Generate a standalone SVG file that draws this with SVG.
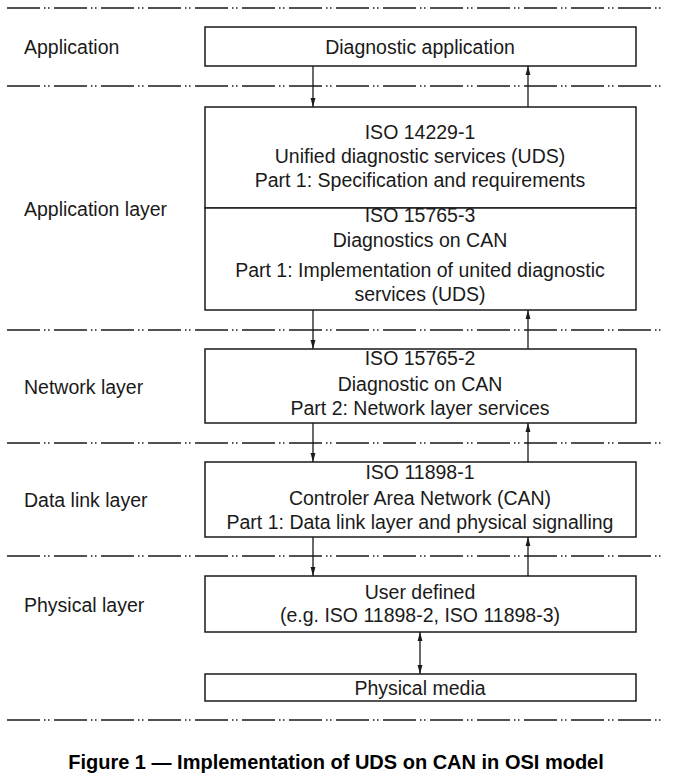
<svg xmlns="http://www.w3.org/2000/svg" width="675" height="782" viewBox="0 0 675 782">
<style>
.bg{fill:#ffffff}
.box{fill:#ffffff;stroke:#1a1a1a;stroke-width:1.5}
.sep{stroke:#1a1a1a;stroke-width:1.3;stroke-dasharray:33 4 1.5 2.5 1.5 4.5;fill:none}
.arr{stroke:#1a1a1a;stroke-width:1.3;fill:none}
.t{font-family:"Liberation Sans",Arial,sans-serif;font-size:19.5px;fill:#1a1a1a;text-anchor:middle}
.l{font-family:"Liberation Sans",Arial,sans-serif;font-size:19.5px;fill:#1a1a1a}
.cap{font-family:"Liberation Sans",Arial,sans-serif;font-size:20px;font-weight:bold;fill:#000;text-anchor:middle}
</style>
<defs>
<marker id="ah" viewBox="0 0 10 10" refX="10" refY="5" markerWidth="9" markerHeight="9" markerUnits="userSpaceOnUse" orient="auto-start-reverse">
<path d="M0,2.3 L10,5 L0,7.7 Z" fill="#1a1a1a"/>
</marker>
</defs>
<rect class="bg" x="0" y="0" width="675" height="782"/>
<g id="separators">
<line class="sep" x1="7" y1="8" x2="664" y2="8"/>
<line class="sep" x1="7" y1="86" x2="664" y2="86"/>
<line class="sep" x1="7" y1="330" x2="664" y2="330"/>
<line class="sep" x1="7" y1="443" x2="664" y2="443"/>
<line class="sep" x1="7" y1="556" x2="664" y2="556"/>
<line class="sep" x1="7" y1="720" x2="664" y2="720"/>
</g>
<g id="layer-labels">
<text class="l" x="24" y="54">Application</text>
<text class="l" x="24" y="216">Application layer</text>
<text class="l" x="24" y="394">Network layer</text>
<text class="l" x="24" y="507">Data link layer</text>
<text class="l" x="24" y="612">Physical layer</text>
</g>
<g id="node-diag-app">
<rect class="box" x="205" y="27" width="431" height="39"/>
<text class="t" x="420" y="54">Diagnostic application</text>
</g>
<g id="node-iso14229">
<rect class="box" x="205" y="107" width="431" height="101"/>
<text class="t" x="420" y="139">ISO 14229-1</text>
<text class="t" x="420" y="163">Unified diagnostic services (UDS)</text>
<text class="t" x="420" y="187">Part 1: Specification and requirements</text>
</g>
<g id="node-iso15765-3">
<rect class="box" x="205" y="208" width="431" height="102"/>
<text class="t" x="420" y="222">ISO 15765-3</text>
<text class="t" x="420" y="247">Diagnostics on CAN</text>
<text class="t" x="420" y="277">Part 1: Implementation of united diagnostic</text>
<text class="t" x="420" y="301">services (UDS)</text>
</g>
<g id="node-iso15765-2">
<rect class="box" x="205" y="349" width="431" height="74"/>
<text class="t" x="420" y="365">ISO 15765-2</text>
<text class="t" x="420" y="391">Diagnostic on CAN</text>
<text class="t" x="420" y="415">Part 2: Network layer services</text>
</g>
<g id="node-iso11898-1">
<rect class="box" x="205" y="462" width="431" height="75"/>
<text class="t" x="420" y="479">ISO 11898-1</text>
<text class="t" x="420" y="505">Controler Area Network (CAN)</text>
<text class="t" x="420" y="529">Part 1: Data link layer and physical signalling</text>
</g>
<g id="node-user-defined">
<rect class="box" x="205" y="576" width="431" height="56"/>
<text class="t" x="420" y="599">User defined</text>
<text class="t" x="420" y="622">(e.g. ISO 11898-2, ISO 11898-3)</text>
</g>
<g id="node-physical-media">
<rect class="box" x="205" y="674" width="431" height="27"/>
<text class="t" x="420" y="695">Physical media</text>
</g>
<g id="connectors">
<line class="arr" x1="313" y1="66" x2="313" y2="107" marker-end="url(#ah)"/>
<line class="arr" x1="528" y1="107" x2="528" y2="66" marker-end="url(#ah)"/>
<line class="arr" x1="313" y1="310" x2="313" y2="349" marker-end="url(#ah)"/>
<line class="arr" x1="528" y1="349" x2="528" y2="310" marker-end="url(#ah)"/>
<line class="arr" x1="313" y1="423" x2="313" y2="462" marker-end="url(#ah)"/>
<line class="arr" x1="528" y1="462" x2="528" y2="423" marker-end="url(#ah)"/>
<line class="arr" x1="313" y1="537" x2="313" y2="576" marker-end="url(#ah)"/>
<line class="arr" x1="528" y1="576" x2="528" y2="537" marker-end="url(#ah)"/>
<line class="arr" x1="420" y1="632" x2="420" y2="674" marker-start="url(#ah)" marker-end="url(#ah)"/>
</g>
<text class="cap" x="336" y="769">Figure 1 — Implementation of UDS on CAN in OSI model</text>
</svg>
